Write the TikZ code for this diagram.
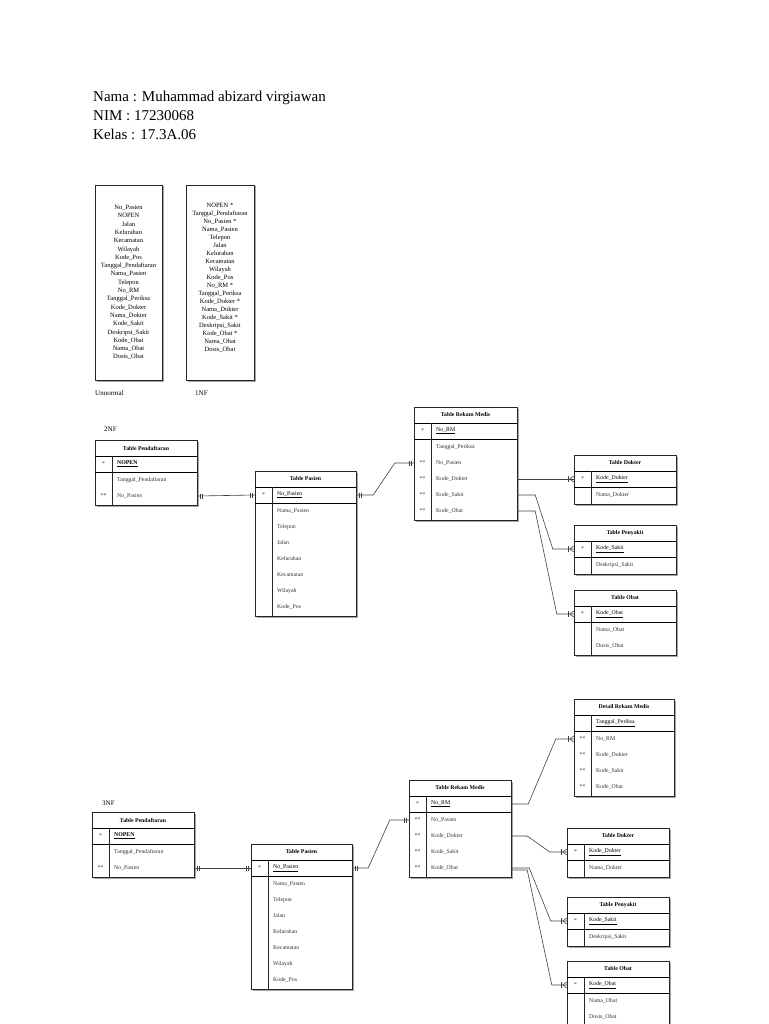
\documentclass[tikz,border=0pt]{standalone}
\usepackage{fontspec}
\setmainfont{Liberation Serif}
\usetikzlibrary{calc}
\tikzset{
  tline/.style={draw=black!85,line width=0.6pt},
  sep/.style={draw=black,line width=0.9pt},
  shadowc/.style={fill=black!35},
  ttl/.style={font=\fontsize{5.8}{6}\selectfont\bfseries,inner sep=0},
  rtxt/.style={font=\fontsize{5.8}{6}\selectfont,text=black!80,inner sep=0,anchor=west},
  ktxt/.style={font=\fontsize{5.8}{6}\selectfont,text=black!80,inner sep=0},
  rowbox/.style={minimum height=16pt,inner sep=0,draw=none},
  conn/.style={draw=black!75,line width=0.6pt},
  lbl/.style={font=\fontsize{7}{8}\selectfont,inner sep=0,anchor=west},
}
% #1 id, #2 x, #3 y, #4 w, #5 title, #6 pk key, #7 pk name, #8 rows, #9 n rows
\newcommand\ertbl[9]{%
  \fill[shadowc] ({#2+1.5},{#3+1.5}) rectangle ({#2+#4+1.5},{#3+33+16*#9+1.5});
  \draw[tline,fill=white] (#2,#3) rectangle ({#2+#4},{#3+33+16*#9});
  \node[ttl] (#1-t) at ({#2+#4/2},{#3+8}) {#5};
  \draw[sep] (#2,{#3+16}) -- ({#2+#4},{#3+16});
  \draw[sep] (#2,{#3+32}) -- ({#2+#4},{#3+32});
  \draw[tline] ({#2+17},{#3+16}) -- ({#2+17},{#3+33+16*#9});
  \node[rowbox,minimum width=#4 pt] (#1-0) at ({#2+#4/2},{#3+24}) {};
  \node[ktxt] at ({#2+8.5},{#3+24}) {#6};
  \node[rtxt,text=black] at ({#2+22},{#3+24}) {\underline{#7}};
  \foreach \k/\t [count=\i] in {#8} {
    \node[rowbox,minimum width=#4 pt] (#1-\i) at ({#2+#4/2},{#3+32+16*\i-8}) {};
    \node[ktxt] at ({#2+8.5},{#3+32+16*\i-8}) {\k};
    \node[rtxt] at ({#2+22},{#3+32+16*\i-8}) {\t};
  }%
}
\newcommand\twobar[2]{%
  \draw[conn] ([xshift=#2*3pt]#1) +(0,2.5pt) -- +(0,-2.5pt);
  \draw[conn] ([xshift=#2*5pt]#1) +(0,2.5pt) -- +(0,-2.5pt);}
\newcommand\crow[1]{%
  \draw[conn] ([xshift=-4pt]#1) -- ([yshift=3pt]#1);
  \draw[conn] ([xshift=-4pt]#1) -- ([yshift=-3pt]#1);
  \draw[conn] ([xshift=-6pt]#1) +(0,3pt) -- +(0,-3pt);}
\begin{document}
\begin{tikzpicture}[x=1pt,y=-1pt]
\useasboundingbox (0,0) rectangle (768,1024);
\node[font=\fontsize{15}{19}\selectfont,anchor=west,align=left,inner sep=0] (hdr) at (93,115)
 {Nama : Muhammad abizard virgiawan\\NIM : 17230068\\Kelas : 17.3A.06};
% Unnormal / 1NF boxes
\fill[shadowc] (96.5,186.5) rectangle (163.5,381.5);
\draw[tline,fill=white] (95,185) rectangle (162,380);
\node[font=\fontsize{6.5}{8.3}\selectfont,align=center,inner sep=0] (un) at (128.5,282.5)
 {No\_Pasien\\NOPEN\\Jalan\\Kelurahan\\Kecamatan\\Wilayah\\Kode\_Pos\\Tanggal\_Pendaftaran\\Nama\_Pasien\\Telepon\\No\_RM\\Tanggal\_Periksa\\Kode\_Dokter\\Nama\_Dokter\\Kode\_Sakit\\Deskripsi\_Sakit\\Kode\_Obat\\Nama\_Obat\\Dosis\_Obat};
\fill[shadowc] (187.5,186.5) rectangle (255.5,381.5);
\draw[tline,fill=white] (186,185) rectangle (254,380);
\node[font=\fontsize{6.5}{8}\selectfont,align=center,inner sep=0] (nf1) at (220,277.5)
 {NOPEN *\\Tanggal\_Pendaftaran\\No\_Pasien *\\Nama\_Pasien\\Telepon\\Jalan\\Kelurahan\\Kecamatan\\Wilayah\\Kode\_Pos\\No\_RM *\\Tanggal\_Periksa\\Kode\_Dokter *\\Nama\_Dokter\\Kode\_Sakit *\\Deskripsi\_Sakit\\Kode\_Obat *\\Nama\_Obat\\Dosis\_Obat};
\node[lbl] (l1) at (95,393) {Unnormal};
\node[lbl] (l2) at (195,393) {1NF};
\node[lbl] (l3) at (104,429) {2NF};
\node[lbl] (l4) at (102,803) {3NF};
% 2NF
\ertbl{a}{95}{440}{102}{Table Pendaftaran}{*}{\textbf{NOPEN}}{/Tanggal\_Pendaftaran,**/No\_Pasien}{2}
\ertbl{b}{255}{471}{101}{Table Pasien}{*}{No\_Pasien}{/Nama\_Pasien,/Telepon,/Jalan,/Kelurahan,/Kecamatan,/Wilayah,/Kode\_Pos}{7}
\ertbl{c}{414}{407}{103}{Table Rekam Medis}{*}{No\_RM}{/Tanggal\_Periksa,**/No\_Pasien,**/Kode\_Dokter,**/Kode\_Sakit,**/Kode\_Obat}{5}
\ertbl{d}{574}{455}{102}{Table Dokter}{*}{Kode\_Dokter}{/Nama\_Dokter}{1}
\ertbl{e}{574}{525}{102}{Table Penyakit}{*}{Kode\_Sakit}{/Deskripsi\_Sakit}{1}
\ertbl{f}{574}{590}{102}{Table Obat}{*}{Kode\_Obat}{/Nama\_Obat,/Dosis\_Obat}{2}
\draw[conn] (a-2.east) -- (b-0.west);
\twobar{a-2.east}{1}\twobar{b-0.west}{-1}
\draw[conn] (b-0.east) -- ++(17,0) -- ($(c-2.west)+(-19,0)$) -- (c-2.west);
\twobar{b-0.east}{1}\twobar{c-2.west}{-1}
\draw[conn] (c-3.east) -- (d-0.west); \crow{d-0.west}
\draw[conn] (c-4.east) -- ++(18,0) -- ($(e-0.west)+(-21,0)$) -- (e-0.west); \crow{e-0.west}
\draw[conn] (c-5.east) -- ++(18,0) -- ($(f-0.west)+(-17,0)$) -- (f-0.west); \crow{f-0.west}
% 3NF
\ertbl{g}{92}{812}{102}{Table Pendaftaran}{*}{\textbf{NOPEN}}{/Tanggal\_Pendaftaran,**/No\_Pasien}{2}
\ertbl{h}{251}{844}{101}{Table Pasien}{*}{No\_Pasien}{/Nama\_Pasien,/Telepon,/Jalan,/Kelurahan,/Kecamatan,/Wilayah,/Kode\_Pos}{7}
\ertbl{i}{409}{780}{102}{Table Rekam Medis}{*}{No\_RM}{**/No\_Pasien,**/Kode\_Dokter,**/Kode\_Sakit,**/Kode\_Obat}{4}
\ertbl{j}{574}{699}{100}{Detail Rekam Medis}{}{Tanggal\_Periksa}{**/No\_RM,**/Kode\_Dokter,**/Kode\_Sakit,**/Kode\_Obat}{4}
\ertbl{k}{567}{828}{102}{Table Dokter}{*}{Kode\_Dokter}{/Nama\_Dokter}{1}
\ertbl{m}{567}{897}{102}{Table Penyakit}{*}{Kode\_Sakit}{/Deskripsi\_Sakit}{1}
\ertbl{n}{567}{961}{102}{Table Obat}{*}{Kode\_Obat}{/Nama\_Obat,/Dosis\_Obat}{2}
\draw[conn] (g-2.east) -- (h-0.west);
\twobar{g-2.east}{1}\twobar{h-0.west}{-1}
\draw[conn] (h-0.east) -- ++(16,0) -- ($(i-1.west)+(-19,0)$) -- (i-1.west);
\twobar{h-0.east}{1}\twobar{i-1.west}{-1}
\draw[conn] (i-0.east) -- ++(17,0) -- ($(j-1.west)+(-18,0)$) -- (j-1.west); \crow{j-1.west}
\draw[conn] (i-2.east) -- ++(16,0) -- ($(k-0.west)+(-17,0)$) -- (k-0.west); \crow{k-0.west}
\draw[conn] (i-4.east) -- ++(18,0) -- ($(m-0.west)+(-16,0)$) -- (m-0.west); \crow{m-0.west}
\draw[conn] ([yshift=-2pt]i-4.east) -- ++(16,0) -- ($(n-0.west)+(-15,0)$) -- (n-0.west); \crow{n-0.west}
\end{tikzpicture}
\end{document}
